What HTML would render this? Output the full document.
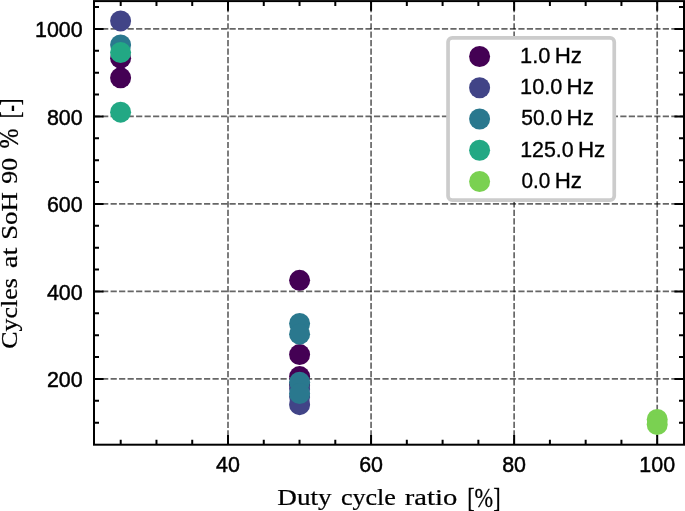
<!DOCTYPE html>
<html lang="en"><head><meta charset="utf-8"><title>Cycles at SoH 90 % vs duty cycle ratio</title>
<style>html,body{margin:0;padding:0;background:#fff;overflow:hidden}svg{display:block}</style></head>
<body>
<svg width="685" height="511" viewBox="0 0 685 511">
<rect x="0" y="0" width="685" height="511" fill="#ffffff"/>
<g stroke="#000" stroke-opacity="0.6" stroke-width="1.7" stroke-dasharray="6.2 2.295" fill="none">
<path stroke-dasharray="6.2 2.283" d="M228.00 445.0 V1.1"/>
<path stroke-dasharray="6.2 2.283" d="M371.07 445.0 V1.1"/>
<path stroke-dasharray="6.2 2.283" d="M514.13 445.0 V1.1"/>
<path stroke-dasharray="6.2 2.283" d="M657.20 445.0 V1.1"/>
<path d="M93.6 378.90 H684.0"/>
<path d="M93.6 291.40 H684.0"/>
<path d="M93.6 203.90 H684.0"/>
<path d="M93.6 116.40 H684.0"/>
<path d="M93.6 28.90 H684.0"/>
</g>
<g>
<circle cx="120.6" cy="58.2" r="10.5" fill="#440154"/>
<circle cx="120.6" cy="77.8" r="10.5" fill="#440154"/>
<circle cx="299.6" cy="280.3" r="10.5" fill="#440154"/>
<circle cx="299.6" cy="354.6" r="10.5" fill="#440154"/>
<circle cx="299.6" cy="376.6" r="10.5" fill="#440154"/>
<circle cx="299.6" cy="385.0" r="10.5" fill="#440154"/>
<circle cx="120.6" cy="20.9" r="10.5" fill="#414487"/>
<circle cx="299.6" cy="389.0" r="10.5" fill="#414487"/>
<circle cx="299.6" cy="397.0" r="10.5" fill="#414487"/>
<circle cx="299.6" cy="404.7" r="10.5" fill="#414487"/>
<circle cx="120.6" cy="44.9" r="10.5" fill="#2a788e"/>
<circle cx="299.6" cy="323.4" r="10.5" fill="#2a788e"/>
<circle cx="299.6" cy="334.2" r="10.5" fill="#2a788e"/>
<circle cx="299.6" cy="382.2" r="10.5" fill="#2a788e"/>
<circle cx="299.6" cy="393.5" r="10.5" fill="#2a788e"/>
<circle cx="120.6" cy="52.5" r="10.5" fill="#22a884"/>
<circle cx="120.6" cy="112.2" r="10.5" fill="#22a884"/>
<circle cx="657.2" cy="419.4" r="10.5" fill="#7ad151"/>
<circle cx="657.2" cy="424.6" r="10.5" fill="#7ad151"/>
</g>
<g stroke="#000" stroke-width="2.0" fill="none">
<path d="M120.70 444.7 v-5.0 M120.70 1.1 v5.0"/>
<path d="M156.47 444.7 v-5.0 M156.47 1.1 v5.0"/>
<path d="M192.23 444.7 v-5.0 M192.23 1.1 v5.0"/>
<path d="M228.00 444.7 v-9.6 M228.00 1.1 v9.6"/>
<path d="M263.77 444.7 v-5.0 M263.77 1.1 v5.0"/>
<path d="M299.53 444.7 v-5.0 M299.53 1.1 v5.0"/>
<path d="M335.30 444.7 v-5.0 M335.30 1.1 v5.0"/>
<path d="M371.07 444.7 v-9.6 M371.07 1.1 v9.6"/>
<path d="M406.83 444.7 v-5.0 M406.83 1.1 v5.0"/>
<path d="M442.60 444.7 v-5.0 M442.60 1.1 v5.0"/>
<path d="M478.37 444.7 v-5.0 M478.37 1.1 v5.0"/>
<path d="M514.13 444.7 v-9.6 M514.13 1.1 v9.6"/>
<path d="M549.90 444.7 v-5.0 M549.90 1.1 v5.0"/>
<path d="M585.67 444.7 v-5.0 M585.67 1.1 v5.0"/>
<path d="M621.43 444.7 v-5.0 M621.43 1.1 v5.0"/>
<path d="M657.20 444.7 v-9.6 M657.20 1.1 v9.6"/>
<path d="M94.0 422.65 h5.0 M684.0 422.65 h-5.0"/>
<path d="M94.0 400.77 h5.0 M684.0 400.77 h-5.0"/>
<path d="M94.0 378.90 h9.6 M684.0 378.90 h-9.6"/>
<path d="M94.0 357.02 h5.0 M684.0 357.02 h-5.0"/>
<path d="M94.0 335.15 h5.0 M684.0 335.15 h-5.0"/>
<path d="M94.0 313.27 h5.0 M684.0 313.27 h-5.0"/>
<path d="M94.0 291.40 h9.6 M684.0 291.40 h-9.6"/>
<path d="M94.0 269.52 h5.0 M684.0 269.52 h-5.0"/>
<path d="M94.0 247.65 h5.0 M684.0 247.65 h-5.0"/>
<path d="M94.0 225.77 h5.0 M684.0 225.77 h-5.0"/>
<path d="M94.0 203.90 h9.6 M684.0 203.90 h-9.6"/>
<path d="M94.0 182.02 h5.0 M684.0 182.02 h-5.0"/>
<path d="M94.0 160.15 h5.0 M684.0 160.15 h-5.0"/>
<path d="M94.0 138.27 h5.0 M684.0 138.27 h-5.0"/>
<path d="M94.0 116.40 h9.6 M684.0 116.40 h-9.6"/>
<path d="M94.0 94.52 h5.0 M684.0 94.52 h-5.0"/>
<path d="M94.0 72.65 h5.0 M684.0 72.65 h-5.0"/>
<path d="M94.0 50.77 h5.0 M684.0 50.77 h-5.0"/>
<path d="M94.0 28.90 h9.6 M684.0 28.90 h-9.6"/>
<path d="M94.0 7.02 h5.0 M684.0 7.02 h-5.0"/>
</g>
<rect x="94.0" y="1.1" width="590.0" height="443.59999999999997" fill="none" stroke="#000" stroke-width="2.0" stroke-linejoin="miter"/>
<g font-family="'Liberation Sans', sans-serif" font-size="21.4px" fill="#000" stroke="#000" stroke-width="0.45">
<text transform="translate(228.00 472) scale(1 1.07)" text-anchor="middle">40</text>
<text transform="translate(371.07 472) scale(1 1.07)" text-anchor="middle">60</text>
<text transform="translate(514.13 472) scale(1 1.07)" text-anchor="middle">80</text>
<text transform="translate(657.20 472) scale(1 1.07)" text-anchor="middle">100</text>
<text transform="translate(82.6 387.00) scale(1 1.07)" text-anchor="end">200</text>
<text transform="translate(82.6 299.50) scale(1 1.07)" text-anchor="end">400</text>
<text transform="translate(82.6 212.00) scale(1 1.07)" text-anchor="end">600</text>
<text transform="translate(82.6 124.50) scale(1 1.07)" text-anchor="end">800</text>
<text transform="translate(82.6 37.00) scale(1 1.07)" text-anchor="end">1000</text>
</g>
<g font-family="'Liberation Serif', serif" font-size="20px" fill="#000" stroke="#000" stroke-width="0.2">
<text transform="translate(277.32 505.00) scale(1.3595 1.1352)">Duty</text>
<text transform="translate(340.88 505.00) scale(1.3049 1.1352)">cycle</text>
<text transform="translate(404.84 505.00) scale(1.4322 1.1352)">ratio</text>
<text transform="translate(467.17 506.62) scale(1.1156 1.3373)">[%]</text>
<text transform="translate(17.20 348.67) rotate(-90) scale(1.2943 1.1352)">Cycles</text>
<text transform="translate(17.20 267.98) rotate(-90) scale(1.4036 1.1352)">at</text>
<text transform="translate(17.20 239.78) rotate(-90) scale(1.3402 1.1352)">SoH</text>
<text transform="translate(17.20 183.64) rotate(-90) scale(1.2874 1.1352)">90</text>
<text transform="translate(17.90 148.55) rotate(-90) scale(1.1935 1.3382)">%</text>
<text transform="translate(19.14 118.36) rotate(-90) scale(0.9913 1.3672)">[-]</text>
</g>
<rect x="448.05" y="37.8" width="166.2" height="162.35" rx="4.2" ry="4.2" fill="#fff" stroke="#ccc" stroke-width="3.7"/>
<g font-family="'Liberation Sans', sans-serif" font-size="20px" fill="#000" stroke="#000" stroke-width="0.3">
<circle cx="479.6" cy="56.50" r="10.5" fill="#440154" stroke="none"/>
<text transform="translate(520.10 62.80) scale(1.0913 1.1459)">1.0</text>
<text transform="translate(554.63 62.80) scale(1.1164 1.1459)">Hz</text>
<circle cx="479.6" cy="87.75" r="10.5" fill="#414487" stroke="none"/>
<text transform="translate(520.11 94.05) scale(1.0847 1.1459)">10.0</text>
<text transform="translate(566.53 94.05) scale(1.1164 1.1459)">Hz</text>
<circle cx="479.6" cy="119.00" r="10.5" fill="#2a788e" stroke="none"/>
<text transform="translate(521.34 125.30) scale(1.0525 1.1459)">50.0</text>
<text transform="translate(566.53 125.30) scale(1.1164 1.1459)">Hz</text>
<circle cx="479.6" cy="150.25" r="10.5" fill="#22a884" stroke="none"/>
<text transform="translate(520.13 156.55) scale(1.0708 1.1459)">125.0</text>
<text transform="translate(577.93 156.55) scale(1.1164 1.1459)">Hz</text>
<circle cx="479.6" cy="181.50" r="10.5" fill="#7ad151" stroke="none"/>
<text transform="translate(521.55 187.80) scale(1.0377 1.1459)">0.0</text>
<text transform="translate(554.63 187.80) scale(1.1164 1.1459)">Hz</text>
</g>
</svg>
</body></html>
